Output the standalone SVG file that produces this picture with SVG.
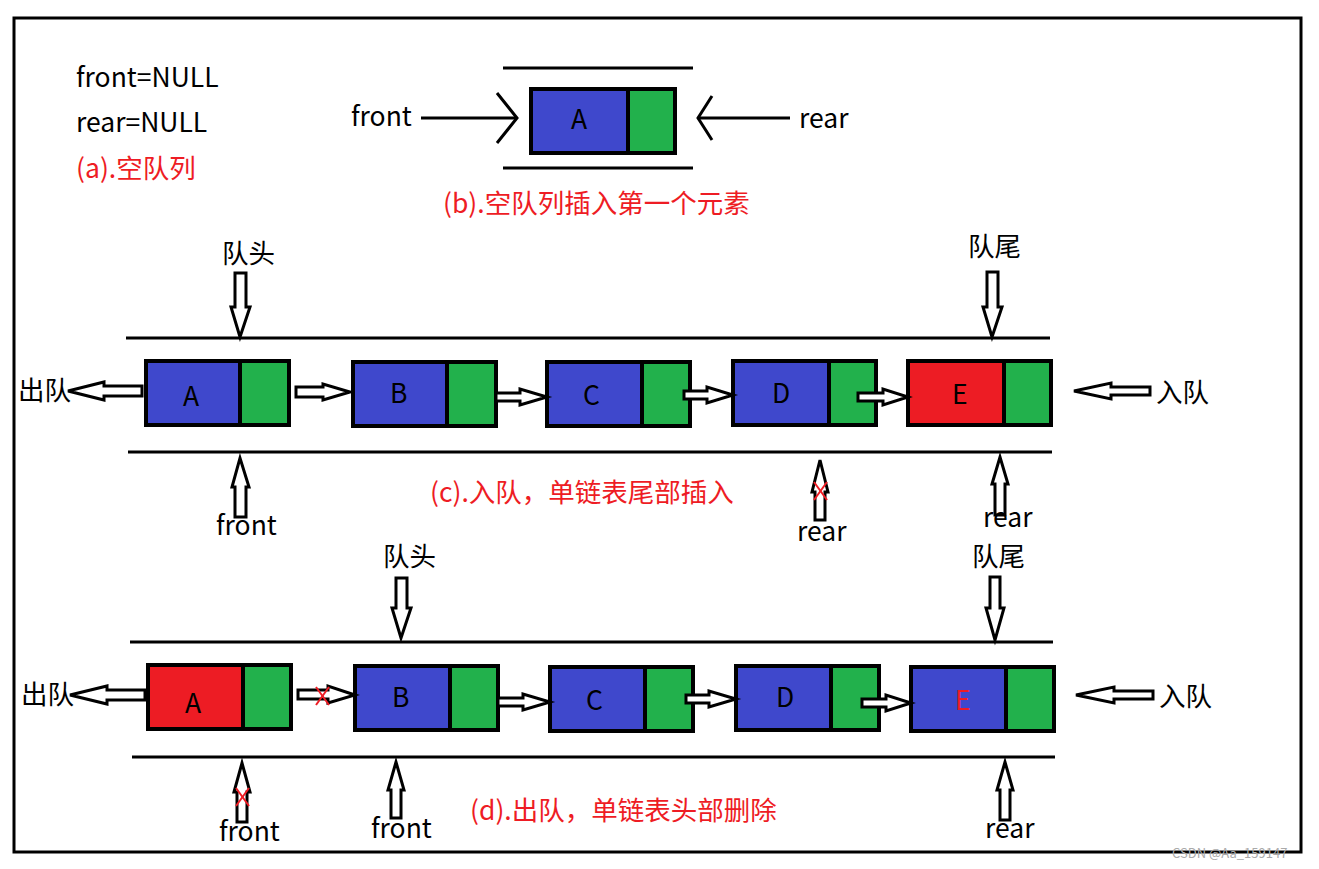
<svg xmlns="http://www.w3.org/2000/svg" width="1319" height="869" viewBox="0 0 1319 869">
<style>
text{font-family:"Noto Sans CJK SC","Liberation Sans",sans-serif;font-size:26.5px;fill:#000}
.red{fill:#ee1c24}
.ln{stroke:#000;stroke-width:3;fill:none}
.ha{fill:#fff;stroke:#000;stroke-width:3;stroke-linejoin:miter}
.bl{fill:#3f48cc;stroke:#000;stroke-width:4}
.rd{fill:#ed1c24;stroke:#000;stroke-width:4}
.gr{fill:#22b14c;stroke:#000;stroke-width:4}
.x{stroke:#ee1c24;stroke-width:2}
</style>
<rect x="0" y="0" width="1319" height="869" fill="#fff"/>
<rect x="14" y="18" width="1287" height="834" fill="none" stroke="#000" stroke-width="3"/>

<g id="labelA">
<text x="76" y="87">front=NULL</text>
<text x="76" y="132">rear=NULL</text>
<text x="76" y="178" class="red">(a).空队列</text>
</g>

<g id="sectionB">
<line class="ln" x1="503" y1="68" x2="693" y2="68"/>
<line class="ln" x1="503" y1="168" x2="693" y2="168"/>
<rect class="bl" x="531" y="89" width="97" height="64"/>
<rect class="gr" x="628" y="89" width="47" height="64"/>
<text x="571" y="129">A</text>
<text x="351" y="126">front</text>
<text x="799" y="128">rear</text>
<text x="443" y="213" class="red">(b).空队列插入第一个元素</text>
</g>

<g id="connectors">
<polyline class="ln" points="421,118 517,118"/>
<polyline class="ln" points="497,93 517,118 497,143"/>
<polyline class="ln" points="790,118 698,118"/>
<polyline class="ln" points="712,96 698,118 712,140"/>
</g>

<g id="sectionC">
<line class="ln" x1="126" y1="338" x2="1050" y2="338"/>
<line class="ln" x1="128" y1="452" x2="1052" y2="452"/>
<g id="c-A"><rect class="bl" x="146" y="361" width="94" height="64"/><rect class="gr" x="240" y="361" width="49" height="64"/><text x="183" y="406">A</text></g>
<g id="c-B"><rect class="bl" x="353" y="362" width="94" height="64"/><rect class="gr" x="447" y="362" width="49" height="64"/><text x="390" y="403">B</text></g>
<g id="c-C"><rect class="bl" x="547" y="362" width="95" height="64"/><rect class="gr" x="642" y="362" width="48" height="64"/><text x="583" y="405">C</text></g>
<g id="c-D"><rect class="bl" x="733" y="361" width="96" height="64"/><rect class="gr" x="829" y="361" width="47" height="64"/><text x="772" y="403">D</text></g>
<g id="c-E"><rect class="rd" x="908" y="361" width="96" height="64"/><rect class="gr" x="1004" y="361" width="47" height="64"/><text x="952" y="404">E</text></g>
<path class="ha" d="M296,387H323V384L350,392L323,400V397H296Z"/>
<path class="ha" d="M496,393H520V389L547,397L520,405V401H496Z"/>
<path class="ha" d="M684,391H707V387L733,395L707,403V399H684Z"/>
<path class="ha" d="M858,393H883V389L908,397L883,405V401H858Z"/>
<path class="ha" d="M142,386H104V382L68,391L104,400V396H142Z"/>
<path class="ha" d="M1150,387H1111V383L1074,391L1111,399V395H1150Z"/>
<path class="ha" d="M235,273H246V307H250L240,337L231,307H235Z"/>
<path class="ha" d="M987,272H998V307H1002L992,337L983,307H987Z"/>
<path class="ha" d="M235,517H246V487H249L240,458L232,487H235Z"/>
<path class="ha" d="M815,520H825V492H828L820,460L812,492H815Z"/>
<path class="ha" d="M995,515H1005V484H1008L1000,457L992,484H995Z"/>
<line class="x" x1="814" y1="482" x2="827" y2="500"/><line class="x" x1="827" y1="482" x2="814" y2="500"/>
<text x="18" y="400">出队</text>
<text x="1156" y="402">入队</text>
<text x="222" y="263">队头</text>
<text x="968" y="256">队尾</text>
<text x="216" y="535">front</text>
<text x="797" y="541">rear</text>
<text x="983" y="527">rear</text>
<text x="430" y="502" class="red">(c).入队，单链表尾部插入</text>
</g>

<g id="sectionD">
<line class="ln" x1="130" y1="642" x2="1053" y2="642"/>
<line class="ln" x1="132" y1="757" x2="1055" y2="757"/>
<g id="d-A"><rect class="rd" x="148" y="665" width="95" height="64"/><rect class="gr" x="243" y="665" width="48" height="64"/><text x="185" y="713">A</text></g>
<g id="d-B"><rect class="bl" x="355" y="666" width="95" height="64"/><rect class="gr" x="450" y="666" width="48" height="64"/><text x="392" y="707">B</text></g>
<g id="d-C"><rect class="bl" x="550" y="667" width="95" height="64"/><rect class="gr" x="645" y="667" width="48" height="64"/><text x="586" y="710">C</text></g>
<g id="d-D"><rect class="bl" x="736" y="666" width="95" height="64"/><rect class="gr" x="831" y="666" width="48" height="64"/><text x="776" y="707">D</text></g>
<g id="d-E"><rect class="bl" x="911" y="667" width="95" height="64"/><rect class="gr" x="1006" y="667" width="48" height="64"/><text x="955" y="710" class="red">E</text></g>
<path class="ha" d="M298,690H328V686L355,695L328,703V699H298Z"/>
<line class="x" x1="316" y1="687" x2="329" y2="705"/><line class="x" x1="329" y1="687" x2="316" y2="705"/>
<path class="ha" d="M498,698H523V694L550,702L523,710V706H498Z"/>
<path class="ha" d="M686,695H709V691L736,699L709,707V703H686Z"/>
<path class="ha" d="M862,699H886V695L911,703L886,711V707H862Z"/>
<path class="ha" d="M145,690H107V686L70,695L107,704V700H145Z"/>
<path class="ha" d="M1153,691H1114V687L1076,695L1114,703V699H1153Z"/>
<path class="ha" d="M396,578H407V608H411L401,638L392,608H396Z"/>
<path class="ha" d="M990,577H1000V608H1004L995,640L986,608H990Z"/>
<path class="ha" d="M237,822H247V792H250L242,763L234,792H237Z"/>
<line class="x" x1="236" y1="788" x2="249" y2="806"/><line class="x" x1="249" y1="788" x2="236" y2="806"/>
<path class="ha" d="M391,818H401V790H404L396,762L388,790H391Z"/>
<path class="ha" d="M1000,820H1010V790H1013L1005,762L997,790H1000Z"/>
<text x="21" y="704">出队</text>
<text x="1159" y="706">入队</text>
<text x="383" y="566">队头</text>
<text x="972" y="566">队尾</text>
<text x="219" y="841">front</text>
<text x="371" y="838">front</text>
<text x="985" y="838">rear</text>
<text x="470" y="820" class="red">(d).出队，单链表头部删除</text>
</g>
<text x="1172" y="858" style="font-size:13px;fill:#aaa">CSDN @Aa_159147</text>
</svg>
